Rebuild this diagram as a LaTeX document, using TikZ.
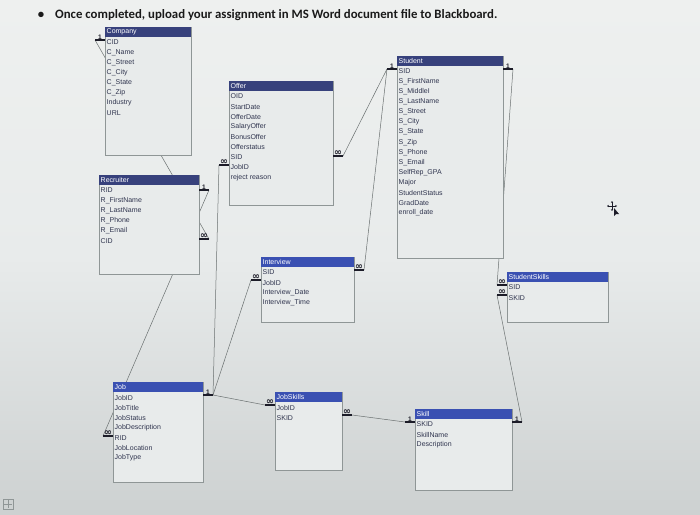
\documentclass[tikz,border=0pt]{standalone}
\usepackage{fontspec}
\setmainfont{Liberation Sans}
\newfontfamily\titlefont{Carlito}
\newfontfamily\symfont{DejaVu Sans}
\usetikzlibrary{arrows.meta}
\definecolor{bgtop}{HTML}{EEF0EF}
\definecolor{bgbot}{HTML}{CDD1D1}
\definecolor{bodyc}{HTML}{E8EBEB}
\definecolor{bordc}{HTML}{8F9696}
\definecolor{hdark}{HTML}{37417C}
\definecolor{hbright}{HTML}{3A50B2}
\definecolor{txtc}{HTML}{30354F}
\definecolor{linec}{HTML}{6A7070}
\definecolor{markc}{HTML}{1C1C28}
\definecolor{titlec}{HTML}{1A1A1A}
\tikzset{
  bodybox/.style={draw=bordc, fill=bodyc, line width=0.6pt, inner sep=0pt, outer sep=0pt, anchor=north west},
  hdrbox/.style={fill=#1, inner sep=0pt, outer sep=0pt, anchor=north west},
  hdrtxt/.style={text=white, font=\fontsize{7}{8}\selectfont, inner sep=0pt, anchor=west},
  rowtxt/.style={text=txtc, font=\fontsize{7}{8}\selectfont, inner sep=0pt, anchor=west},
  rel/.style={draw=linec, line width=0.5pt},
  stubline/.style={draw=markc, line width=1.6pt},
  onelbl/.style={font=\fontsize{6.5}{6.5}\selectfont\bfseries, text=markc, inner sep=0pt},
  manylbl/.style={font=\symfont\bfseries\fontsize{9.5}{9.5}\selectfont, text=markc, inner sep=0pt},
}
% table: name, x1, ytop, x2, ybottom, title, rows, header colour
\newcommand\acctab[8]{%
  \node[bodybox, minimum width={(#4-#2)*1pt}, minimum height={(#5-#3)*1pt}] (#1) at (#2,#3) {};
  \node[hdrbox=#8, minimum width={(#4-#2)*1pt}, minimum height=9.5pt] (#1-h) at (#2,#3) {};
  \node[hdrtxt] (#1-t) at ({#2+1.5},{#3+4.9}) {#6};
  \foreach \r [count=\i] in {#7} {\node[rowtxt] (#1-\i) at ({#2+1.5},{#3+15.5+(\i-1)*10.1}) {\r};}
}
% stub coordinates: name, edge x, y, direction
\newcommand\mkc[4]{%
  \coordinate (#1-e) at (#2,#3);
  \coordinate (#1) at ({#2+10*(#4)},#3);
}
\newcommand\stubone[1]{%
  \draw[stubline] (#1-e) -- (#1);
  \path (#1-e) -- (#1) node[midway, above=0.6pt, onelbl] (#1-l) {1};
}
\newcommand\stubinf[1]{%
  \draw[stubline] (#1-e) -- (#1);
  \path (#1-e) -- (#1) node[midway, above=0.2pt, manylbl] (#1-l) {∞};
}
\begin{document}
\begin{tikzpicture}[x=1pt,y=-1pt]
\useasboundingbox (0,0) rectangle (700,514);
\shade[top color=bgtop, bottom color=bgbot, middle color=bodyc] (0,0) rectangle (700,514);

% title
\node[font=\titlefont\bfseries\fontsize{12.8}{14}\selectfont, text=titlec, inner sep=0pt, anchor=center] (bullet) at (41,15) {•};
\node[font=\titlefont\bfseries\fontsize{12.8}{14}\selectfont, text=titlec, inner sep=0pt, anchor=west] (title) at (55,15) {Once completed, upload your assignment in MS Word document file to Blackboard.};

% stub coordinates
\mkc{cA}{105}{40}{-1}
\mkc{rC}{199}{239}{1}
\mkc{rR}{199}{190}{1}
\mkc{jR}{113}{436}{-1}
\mkc{jJ}{203}{395}{1}
\mkc{oJ}{229}{165}{-1}
\mkc{oS}{333}{156}{1}
\mkc{sL}{397}{69}{-1}
\mkc{sR}{503}{69}{1}
\mkc{iS}{354}{270}{1}
\mkc{iJ}{261}{280}{-1}
\mkc{kJ}{275}{405}{-1}
\mkc{kS}{342}{415}{1}
\mkc{lL}{415}{422}{-1}
\mkc{lR}{512}{422}{1}
\mkc{tS}{507}{285}{-1}
\mkc{tK}{507}{295}{-1}

% relationship lines
\draw[rel] (cA) -- (rC);
\draw[rel] (rR) -- (jR);
\draw[rel] (jJ) -- (oJ);
\draw[rel] (jJ) -- (iJ);
\draw[rel] (jJ) -- (kJ);
\draw[rel] (sL) -- (oS);
\draw[rel] (sL) -- (iS);
\draw[rel] (sR) -- (tS);
\draw[rel] (lR) -- (tK);
\draw[rel] (lL) -- (kS);

% tables
\acctab{company}{105}{27}{191}{155}{Company}{CID,C\_Name,C\_Street,C\_City,C\_State,C\_Zip,Industry,URL}{hdark}
\acctab{offer}{229}{81}{333}{205}{Offer}{OID,StartDate,OfferDate,SalaryOffer,BonusOffer,Offerstatus,SID,JobID,reject reason}{hdark}
\acctab{student}{397}{56}{503}{258}{Student}{SID,S\_FirstName,S\_MiddleI,S\_LastName,S\_Street,S\_City,S\_State,S\_Zip,S\_Phone,S\_Email,SelfRep\_GPA,Major,StudentStatus,GradDate,enroll\_date}{hdark}
\acctab{recruiter}{99}{175}{199}{274}{Recruiter}{RID,R\_FirstName,R\_LastName,R\_Phone,R\_Email,CID}{hdark}
\acctab{interview}{261}{257}{354}{322}{Interview}{SID,JobID,Interview\_Date,Interview\_Time}{hbright}
\acctab{stuskills}{507}{272}{608}{322}{StudentSkills}{SID,SKID}{hbright}
\acctab{job}{113}{382}{203}{482}{Job}{JobID,JobTitle,JobStatus,JobDescription,RID,JobLocation,JobType}{hbright}
\acctab{jobskills}{275}{392}{342}{470}{JobSkills}{JobID,SKID}{hbright}
\acctab{skill}{415}{409}{512}{490}{Skill}{SKID,SkillName,Description}{hbright}

% relationship end markers
\stubone{cA}
\stubinf{rC}
\stubone{rR}
\stubinf{jR}
\stubone{jJ}
\stubinf{oJ}
\stubinf{oS}
\stubone{sL}
\stubone{sR}
\stubinf{iS}
\stubinf{iJ}
\stubinf{kJ}
\stubinf{kS}
\stubone{lL}
\stubone{lR}
\stubinf{tS}
\stubinf{tK}

% mouse cursor (move)
\coordinate (cur) at (612,206);
\foreach \d in {(0,-5),(0,5),(-5,0),(5,0)}
  \draw[markc, line width=0.6pt, -{Stealth[length=1.8pt,width=2.2pt]}] (cur) -- ++\d;
\fill[markc] (614,208) -- (614,216) -- (616,214) -- (619,214) -- cycle;

% bottom-left window icon
\draw[bordc, line width=0.5pt] (3,499) rectangle (13,509);
\draw[bordc, line width=0.5pt] (8,500) -- (8,508) (4,504) -- (12,504);
\end{tikzpicture}
\end{document}
